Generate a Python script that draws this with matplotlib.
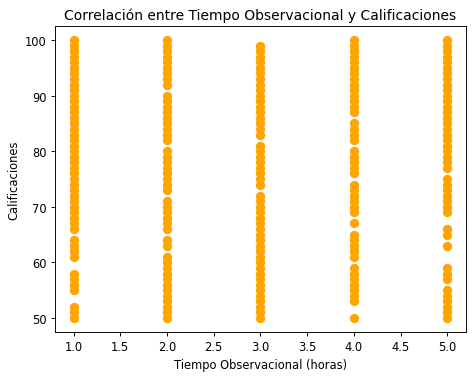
import numpy as np
import matplotlib
matplotlib.use("Agg")
import matplotlib.pyplot as plt

# Calificaciones observadas para cada nivel de tiempo observacional
horas = [1, 2, 3, 4, 5]

calif_1h = [50, 51, 52, 55, 56, 57, 58, 61, 62, 63, 64,
            66, 67, 68, 69, 70, 71, 72, 73, 74, 75, 76, 77, 78, 79, 80,
            81, 82, 83, 84, 85, 86, 87, 88, 89, 90, 91, 92, 93, 94, 95,
            96, 97, 98, 99, 100]
calif_2h = [50, 51, 52, 53, 54, 55, 56, 57, 58, 59, 60, 61, 63, 64,
            66, 67, 68, 69, 70, 71, 73, 74, 75, 76, 77, 78, 79, 80,
            82, 83, 84, 85, 86, 87, 88, 89, 90,
            92, 93, 94, 95, 96, 97, 98, 99, 100]
calif_3h = [50, 51, 52, 53, 54, 55, 56, 57, 58, 59, 60, 61, 62, 63, 64,
            65, 66, 67, 68, 69, 70, 71, 72, 74, 75, 76, 77, 78, 79, 80, 81,
            83, 84, 85, 86, 87, 88, 89, 90, 91, 92, 93, 94, 95, 96, 97, 98, 99]
calif_4h = [50, 53, 54, 55, 56, 57, 58, 59, 61, 62, 63, 64, 65, 67,
            69, 70, 71, 72, 73, 74, 76, 77, 78, 79, 80, 82, 83, 84, 85,
            87, 88, 89, 90, 91, 92, 93, 94, 95, 96, 97, 98, 99, 100]
calif_5h = [50, 51, 52, 53, 54, 55, 57, 58, 59, 63, 65, 66,
            69, 70, 71, 72, 73, 74, 75, 77, 78, 79, 80, 81, 82, 83, 84, 85,
            86, 87, 88, 89, 90, 91, 92, 93, 94, 95, 96, 97, 98, 99, 100]

calificaciones = [calif_1h, calif_2h, calif_3h, calif_4h, calif_5h]

x = []
y = []
for h, valores in zip(horas, calificaciones):
    x.extend([h] * len(valores))
    y.extend(valores)

dpi = 83
fig, ax = plt.subplots(figsize=(474 / dpi, 377 / dpi), dpi=dpi)
ax.scatter(x, y, color="orange", s=50)

ax.set_title("Correlación entre Tiempo Observacional y Calificaciones")
ax.set_xlabel("Tiempo Observacional (horas)")
ax.set_ylabel("Calificaciones")

fig.subplots_adjust(left=0.116, right=0.983, top=0.928, bottom=0.117)
fig.savefig("out.png", dpi=dpi)
